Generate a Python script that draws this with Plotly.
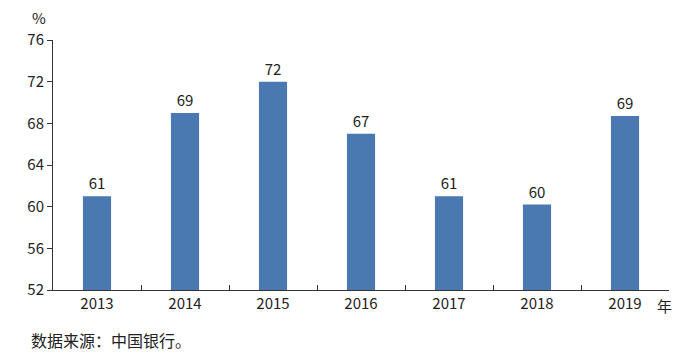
import plotly.graph_objects as go

years = ["2013", "2014", "2015", "2016", "2017", "2018", "2019"]
values = [61, 69, 72, 67, 61, 60.2, 68.7]
labels = ["61", "69", "72", "67", "61", "60", "69"]
y_ticks = [52, 56, 60, 64, 68, 72, 76]

font = "Noto Sans CJK SC"
fig = go.Figure()
fig.add_trace(go.Bar(
    x=years, y=values, text=labels, textposition="outside",
    marker=dict(color="#4a79b1", line=dict(width=0)),
    textfont=dict(size=15, color="#222", family=font),
    cliponaxis=False,
))
fig.update_layout(
    width=692, height=355,
    margin=dict(l=45, r=31, t=32, b=73, autoexpand=False),
    paper_bgcolor="white", plot_bgcolor="white",
    bargap=0.68,
    showlegend=False,
    font=dict(family=font, size=15, color="#222"),
)
fig.update_xaxes(
    type="category", showline=True, linecolor="#333", linewidth=1,
    ticks="inside", tickson="boundaries", ticklen=5, tickcolor="#333",
    showgrid=False, tickfont=dict(size=15, color="#222"),
)
fig.update_yaxes(
    range=[52, 76], tickvals=y_ticks, showline=True, linecolor="#333", linewidth=1,
    ticks="outside", ticklen=5, tickcolor="#333", showgrid=False, zeroline=False,
    tickfont=dict(size=15, color="#222"),
)
fig.add_annotation(text="%", xref="paper", yref="paper", x=-0.023, y=1.088,
                   xanchor="center", yanchor="middle", showarrow=False,
                   font=dict(size=15, color="#222", family=font))
fig.add_annotation(text="年", xref="paper", yref="paper", x=0.992, y=-0.06,
                   xanchor="center", yanchor="middle", showarrow=False,
                   font=dict(size=15, color="#222", family=font))
fig.add_annotation(text="数据来源：中国银行。", xref="paper", yref="paper", x=-0.039, y=-0.2,
                   xanchor="left", yanchor="middle", showarrow=False,
                   font=dict(size=16, color="#222", family=font))
fig.write_html("out.html")
